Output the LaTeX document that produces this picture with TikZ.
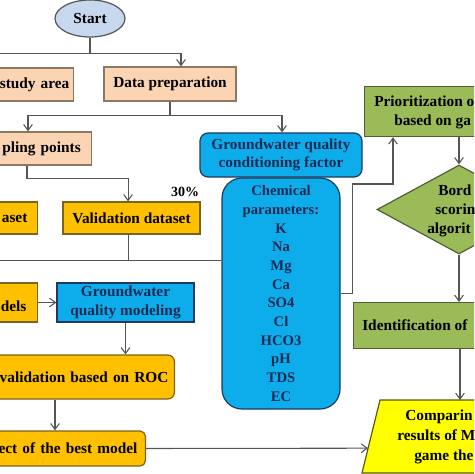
\documentclass[tikz,border=0pt]{standalone}
\usepackage{fontspec}
\setmainfont{Liberation Serif}
\usetikzlibrary{arrows.meta,shapes.geometric,calc}
\definecolor{peach}{HTML}{FBD4B4}
\definecolor{peachd}{HTML}{8C7664}
\definecolor{gold}{HTML}{FFC000}
\definecolor{goldd}{HTML}{7A6220}
\definecolor{sky}{HTML}{0DADEB}
\definecolor{skyd}{HTML}{1F3A60}
\definecolor{navyt}{HTML}{1B2A55}
\definecolor{grn}{HTML}{9BBB59}
\definecolor{grnd}{HTML}{4F5F35}
\definecolor{lemon}{HTML}{FFFF00}
\definecolor{lemond}{HTML}{5A5A10}
\definecolor{startfill}{HTML}{C6D7EE}
\definecolor{wirec}{HTML}{555555}
\begin{document}
\begin{tikzpicture}[x=0.75pt,y=-0.75pt,
  font=\fontsize{11.5}{14}\selectfont\bfseries,
  stdbox/.style={draw, line width=0.9pt, inner sep=0pt, align=center, text=black},
  peachbox/.style={stdbox, fill=peach, draw=peachd},
  goldbox/.style={stdbox, fill=gold, draw=goldd},
  skybox/.style={stdbox, fill=sky, draw=skyd, text=navyt},
  grnbox/.style={stdbox, fill=grn, draw=grnd},
  lbl/.style={inner sep=0pt, align=left, text=black},
  wire/.style={draw=wirec, line width=0.8pt},
  arr/.style={wire, -{Straight Barb[length=4.5pt,width=6.5pt]}}]
\useasboundingbox (0,0) rectangle (474,474);
\fill[white] (0,0) rectangle (474,474);
\clip (0,0) rectangle (474,474);

% column helpers
\coordinate (offL) at (-5,0);
\coordinate (cA) at (28,0);
\coordinate (cB) at (27,0);
\coordinate (cC) at (55,0);
\coordinate (cD) at (393,0);
\coordinate (cE) at (460,0);

% nodes
\node[ellipse, draw=wirec, line width=0.9pt, fill=startfill, minimum width=70*0.75pt,
      minimum height=37*0.75pt, inner sep=0pt] (start) at (90,18.5) {Start};
\node[peachbox, anchor=east, text width=100*0.75pt, align=right, inner xsep=3pt,
      minimum height=33*0.75pt] (study) at (74,84.5) {study area};
\node[peachbox, minimum width=132*0.75pt, minimum height=34*0.75pt] (dataprep) at (170,84) {Data preparation};
\node[peachbox, anchor=east, text width=110*0.75pt, align=right, inner xsep=8pt,
      minimum height=33*0.75pt] (sampling) at (92,148.5) {pling points};
\node[skybox, rounded corners=6pt, minimum width=162*0.75pt, minimum height=44*0.75pt] (gqcf) at (281,155)
      {Groundwater quality\\conditioning factor};
\node[skybox, rounded corners=15pt, minimum width=118*0.75pt, minimum height=231*0.75pt,
      font=\fontsize{11}{14}\selectfont\bfseries] (chem) at (281,293.5)
      {Chemical\\parameters:\\K\\Na\\Mg\\Ca\\SO4\\Cl\\HCO3\\pH\\TDS\\EC};
\node[goldbox, anchor=east, text width=60*0.75pt, align=right, inner xsep=7.5pt,
      minimum height=32*0.75pt] (train) at (38,218) {aset};
\node[goldbox, minimum width=137*0.75pt, minimum height=32*0.75pt] (valid) at (131.5,218) {Validation dataset};
\node[inner sep=0pt, font=\fontsize{10.5}{12}\selectfont\bfseries] (pct) at (185,192) {30\%};
\node[goldbox, anchor=east, text width=60*0.75pt, align=right, inner xsep=8.25pt,
      minimum height=39*0.75pt] (models) at (38,302.5) {\mbox{}\\dels};
\node[skybox, minimum width=137*0.75pt, minimum height=39*0.75pt] (gqm) at (125.5,302.5)
      {Groundwater\\quality modeling};
\node[goldbox, rounded corners=5pt, anchor=east, text width=200*0.75pt, align=right, inner xsep=4.5pt,
      minimum height=44*0.75pt] (roc) at (175,377) {validation based on ROC};
\node[goldbox, rounded corners=4pt, anchor=east, text width=180*0.75pt, align=right, inner xsep=6pt,
      minimum height=35*0.75pt] (best) at (146,448.5) {ect of the best model};

\node[grnbox, anchor=north west, minimum width=200*0.75pt, minimum height=50*0.75pt] (prior) at (364,86) {};
\node[lbl, anchor=west] (priort) at (374,112.5) {Prioritization o\\\hspace*{15pt}based on ga};
\node[diamond, draw=grnd, line width=0.9pt, fill=grn, minimum width=164*0.75pt,
      minimum height=89*0.75pt, inner sep=0pt] (borda) at (459,209.5) {};
\node[lbl, anchor=west] (bordat) at (427,211) {\hspace*{8.25pt}Bord\\\hspace*{6pt}scorin\\algorit};
\node[grnbox, anchor=north west, minimum width=200*0.75pt, minimum height=46*0.75pt] (ident) at (353,302) {};
\node[lbl, anchor=west] (identt) at (362,325) {Identification of};
% comparing parallelogram
\coordinate (cmpbl) at (362,473);
\coordinate (cmptl) at (380,400);
\filldraw[draw=lemond, line width=0.9pt, fill=lemon] (cmpbl) -- (cmptl) -- ++(200,0) -- ++(-18,73) -- cycle;
\node[lbl, anchor=west, font=\fontsize{11.5}{15}\selectfont\bfseries] (cmpt) at (397,437)
      {\hspace*{6pt}Comparin\\results of M\\\hspace*{12.75pt}game the};

% connectors
\draw[wire] (start.south) -- ++(0,16) coordinate (j1);
\draw[wire] (j1) -- (offL |- j1);
\draw[arr] (j1) -| ([xshift=8.25pt]dataprep.north);
\draw[wire] (dataprep.south) -- ++(0,14) coordinate (j2);
\draw[arr] (j2) -| (cA |- sampling.north);
\draw[arr] (j2) -| ([xshift=0.75pt]gqcf.north);
\draw[arr] (sampling.south -| cB) -- ++(0,13) -| ([xshift=-2.6pt]valid.north);
\draw[wire] ([xshift=-2.6pt]valid.south) -- ++(0,26) coordinate (j3);
\draw[wire] (offL |- j3) -- (chem.west |- j3);
\draw[arr] (models.east) -- (gqm.west);
\draw[arr] (gqm.south) -- (gqm.south |- roc.north);
\draw[arr] (roc.south -| cC) -- (best.north -| cC);
\draw[arr] (best.east) -- ($(cmpbl)!0.34!(cmptl)$);
\draw[arr] (chem.east) -- ++(12,0) -- ++(0,-109.5) -| (cD |- prior.south);
\draw[arr] (prior.south -| borda.north) -- (borda.north);
\draw[arr] (borda.south) -- (borda.south |- ident.north);
\draw[arr] (ident.south -| cE) -- (cE |- cmptl);
\end{tikzpicture}
\end{document}
